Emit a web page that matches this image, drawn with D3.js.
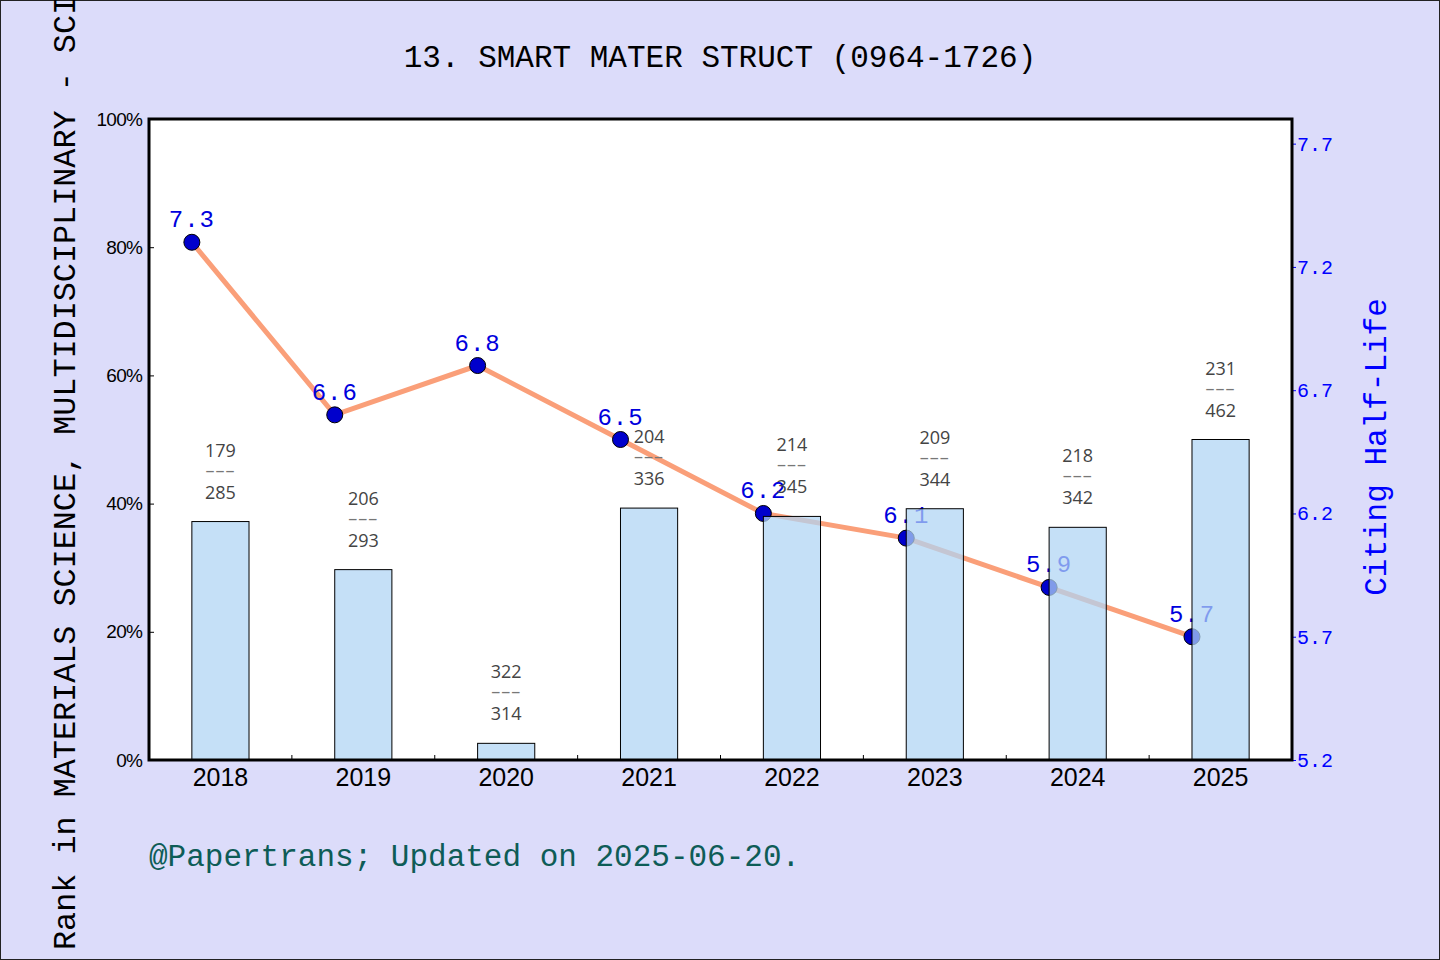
<!DOCTYPE html>
<html>
<head>
<meta charset="utf-8">
<script src="https://cdn.jsdelivr.net/npm/d3@7"></script>
<style>
  body { margin: 0; background: #dcdcfa; }
  svg { display: block; }
</style>
</head>
<body>
<div id="container"></div>
<script>
/* CONSTANTS AND GLOBALS */
const width = 1440;
const height = 960;
const plot = { left: 149, right: 1292, top: 119, bottom: 760 };

/* DATA */
const years = ["2018", "2019", "2020", "2021", "2022", "2023", "2024", "2025"];
const rankPct = [37.2, 29.7, 2.6, 39.3, 38.0, 39.2, 36.3, 50.0];   // bar height, % of left axis
const rank = [179, 206, 322, 204, 214, 209, 218, 231];
const total = [285, 293, 314, 336, 345, 344, 342, 462];
const halfLife = [7.3, 6.6, 6.8, 6.5, 6.2, 6.1, 5.9, 5.7];
const leftTicks = [0, 20, 40, 60, 80, 100];
const rightTicks = [5.2, 5.7, 6.2, 6.7, 7.2, 7.7];

const svg = d3.select("#container").append("svg")
  .attr("width", width)
  .attr("height", height);

svg.append("rect")
  .attr("x", 0.5).attr("y", 0.5)
  .attr("width", width - 1).attr("height", height - 1)
  .attr("fill", "#dcdcfa")
  .attr("stroke", "#222");

/* SCALES */
const xScale = d3.scaleBand()
  .domain(years)
  .range([plot.left, plot.right]);

const yLeft = d3.scaleLinear()
  .domain([0, 100])
  .range([plot.bottom, plot.top]);

const yRight = d3.scaleLinear()
  .domain([5.2, 7.8])
  .range([plot.bottom, plot.top]);

const barW = xScale.bandwidth() * 0.4;
const barX = d => xScale(d) + xScale.bandwidth() / 2 - barW / 2;

// plot background
svg.append("rect")
  .attr("x", plot.left).attr("y", plot.top)
  .attr("width", plot.right - plot.left)
  .attr("height", plot.bottom - plot.top)
  .attr("fill", "white");

/* LINE + POINTS (drawn under the bars) */
const pts = years.map((y, i) => ({ year: y, v: halfLife[i] }));

svg.append("path")
  .datum(pts)
  .attr("fill", "none")
  .attr("stroke", "#fa9f79")
  .attr("stroke-width", 5)
  .attr("d", d3.line().x(d => barX(d.year)).y(d => yRight(d.v)));

svg.selectAll("circle.pt")
  .data(pts)
  .join("circle")
  .attr("class", "pt")
  .attr("cx", d => barX(d.year))
  .attr("cy", d => yRight(d.v))
  .attr("r", 8)
  .attr("fill", "#0000cc")
  .attr("stroke", "black")
  .attr("stroke-width", 1);

svg.selectAll("text.val")
  .data(pts)
  .join("text")
  .attr("class", "val")
  .attr("x", d => barX(d.year))
  .attr("y", d => yRight(d.v) - 15)
  .attr("text-anchor", "middle")
  .attr("font-family", "Liberation Mono")
  .attr("font-size", 24)
  .attr("letter-spacing", 1)
  .attr("fill", "#0000dd")
  .text(d => d.v.toFixed(1));

/* BARS */
svg.selectAll("rect.bar")
  .data(years)
  .join("rect")
  .attr("class", "bar")
  .attr("x", d => barX(d))
  .attr("y", (d, i) => yLeft(rankPct[i]))
  .attr("width", barW)
  .attr("height", (d, i) => yLeft(0) - yLeft(rankPct[i]))
  .attr("fill", "rgba(175,212,244,0.73)")
  .attr("stroke", "black")
  .attr("stroke-width", 1);

/* RANK LABELS */
const lbl = svg.selectAll("g.rank")
  .data(years)
  .join("g")
  .attr("class", "rank")
  .attr("transform", (d, i) => `translate(${xScale(d) + xScale.bandwidth() / 2},${yLeft(rankPct[i]) - 23})`)
  .attr("font-family", "Open Sans")
  .attr("font-size", 18)
  .attr("fill", "#444")
  .attr("text-anchor", "middle");
lbl.append("text").attr("y", -42).text((d, i) => rank[i]);
lbl.append("text").attr("y", -22).attr("fill", "#777").attr("letter-spacing", 1).text("–––");
lbl.append("text").attr("y", 0).text((d, i) => total[i]);

/* AXES */
const leftAxis = d3.axisLeft(yLeft)
  .tickValues(leftTicks)
  .tickFormat(d => d + "%")
  .tickSizeInner(-5).tickSizeOuter(0).tickPadding(7);
svg.append("g")
  .attr("transform", `translate(${plot.left},0)`)
  .call(leftAxis)
  .call(g => g.select(".domain").remove())
  .call(g => g.selectAll("text")
    .attr("font-family", "Liberation Sans")
    .attr("font-size", 19)
    .attr("letter-spacing", -0.8)
    .attr("fill", "black"));

const rightAxis = d3.axisRight(yRight)
  .tickValues(rightTicks)
  .tickFormat(d3.format(".1f"))
  .tickSizeInner(4).tickSizeOuter(0).tickPadding(1);
svg.append("g")
  .attr("transform", `translate(${plot.right},0)`)
  .call(rightAxis)
  .call(g => g.select(".domain").remove())
  .call(g => g.selectAll("line").attr("stroke", "#0000ff"))
  .call(g => g.selectAll("text")
    .attr("font-family", "Liberation Mono")
    .attr("font-size", 20)
    .attr("fill", "#0000ff"));

const bottomAxis = d3.axisBottom(xScale).tickSize(0).tickPadding(8);
svg.append("g")
  .attr("transform", `translate(0,${plot.bottom})`)
  .call(bottomAxis)
  .call(g => g.select(".domain").remove())
  .call(g => g.selectAll("text")
    .attr("font-family", "Liberation Sans")
    .attr("font-size", 25)
    .attr("fill", "black"));

// small ticks at category boundaries
svg.selectAll("line.sep")
  .data(years.slice(1))
  .join("line")
  .attr("class", "sep")
  .attr("x1", d => xScale(d)).attr("x2", d => xScale(d))
  .attr("y1", plot.bottom).attr("y2", plot.bottom - 5)
  .attr("stroke", "black");

// frame
svg.append("rect")
  .attr("x", plot.left).attr("y", plot.top)
  .attr("width", plot.right - plot.left)
  .attr("height", plot.bottom - plot.top)
  .attr("fill", "none")
  .attr("stroke", "black")
  .attr("stroke-width", 3);

/* TEXTS */
svg.append("text")
  .attr("x", 720).attr("y", 67)
  .attr("text-anchor", "middle")
  .attr("font-family", "Liberation Mono")
  .attr("font-size", 31)
  .text("13. SMART MATER STRUCT (0964-1726)");

svg.append("text")
  .attr("transform", "translate(75,950) rotate(-90)")
  .attr("font-family", "Liberation Mono")
  .attr("font-size", 31.8)
  .text("Rank in MATERIALS SCIENCE, MULTIDISCIPLINARY - SCI");

svg.append("text")
  .attr("transform", "translate(1386,447) rotate(-90)")
  .attr("text-anchor", "middle")
  .attr("font-family", "Liberation Mono")
  .attr("font-size", 31)
  .attr("fill", "#0000ff")
  .text("Citing Half-Life");

svg.append("text")
  .attr("x", 149).attr("y", 866)
  .attr("font-family", "Liberation Mono")
  .attr("font-size", 31)
  .attr("fill", "#0e5c57")
  .text("@Papertrans; Updated on 2025-06-20.");
</script>
</body>
</html>
